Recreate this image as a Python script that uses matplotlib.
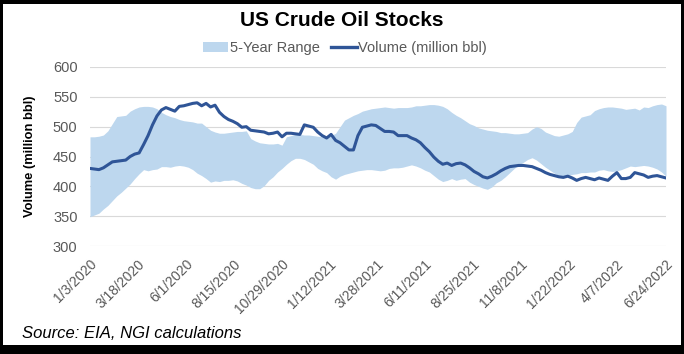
import matplotlib
matplotlib.use("Agg")
import matplotlib.pyplot as plt
from matplotlib.patches import Rectangle, Patch
from matplotlib.lines import Line2D
import pandas as pd

# Weekly dates
weeks = pd.date_range("2020-01-03", "2022-06-24", freq="7D")

volume = [430, 429, 428, 431, 436, 441, 442, 443, 444, 450,
          454, 456, 470, 485, 503, 518, 528, 532, 529, 526,
          534, 535, 537, 539, 540, 535, 539, 533, 536, 524,
          517, 512, 509, 505, 499, 500, 494, 493, 492, 491,
          488, 489, 491, 483, 489, 489, 488, 487, 503, 501,
          499, 491, 485, 481, 487, 477, 473, 467, 461, 461,
          485, 499, 501, 503, 502, 497, 492, 492, 491, 485,
          485, 485, 481, 478, 473, 465, 458, 449, 442, 437,
          439, 435, 438, 439, 436, 431, 425, 421, 416, 414,
          417, 421, 426, 430, 433, 434, 435, 435, 434, 433,
          430, 427, 423, 420, 418, 416, 415, 417, 414, 410,
          413, 415, 413, 411, 414, 412, 410, 417, 423, 413,
          413, 415, 423, 421, 419, 415, 417, 418, 416, 414]

range_high = [483, 483, 484, 486, 493, 505, 517, 518, 519, 526,
              530, 533, 534, 534, 533, 530, 524, 520, 517, 515,
              512, 510, 509, 508, 506, 506, 500, 494, 491, 489,
              489, 490, 491, 492, 492, 493, 480, 476, 473, 472,
              471, 471, 472, 469, 483, 485, 487, 487, 486, 486,
              485, 484, 483, 483, 485, 489, 500, 511, 515, 519,
              522, 526, 528, 530, 531, 532, 533, 532, 531, 532,
              532, 532, 533, 535, 535, 536, 537, 537, 536, 534,
              530, 524, 519, 515, 510, 505, 502, 498, 496, 494,
              493, 492, 490, 490, 489, 488, 488, 489, 490, 496,
              500, 497, 491, 488, 485, 484, 486, 488, 492, 507,
              516, 518, 520, 527, 530, 532, 533, 533, 532, 531,
              529, 530, 531, 528, 533, 532, 535, 537, 538, 535]

range_low = [349, 352, 355, 362, 368, 376, 384, 390, 397, 404,
             413, 421, 428, 426, 428, 429, 433, 433, 432, 434,
             435, 434, 432, 428, 422, 418, 413, 407, 409, 408,
             410, 410, 411, 409, 405, 402, 398, 396, 396, 401,
             410, 416, 424, 430, 437, 443, 447, 447, 445, 441,
             437, 430, 426, 423, 416, 412, 417, 420, 422, 424,
             426, 427, 428, 428, 427, 426, 427, 430, 431, 431,
             432, 434, 436, 434, 431, 427, 424, 418, 412, 408,
             410, 413, 410, 412, 413, 407, 403, 400, 397, 395,
             399, 406, 410, 416, 423, 430, 436, 440, 445, 448,
             444, 438, 432, 427, 422, 418, 417, 418, 420, 421,
             423, 423, 424, 424, 427, 428, 426, 425, 426, 428,
             431, 434, 433, 434, 435, 434, 432, 429, 424, 417]

tick_labels = ["1/3/2020", "3/18/2020", "6/1/2020", "8/15/2020", "10/29/2020",
               "1/12/2021", "3/28/2021", "6/11/2021", "8/25/2021", "11/8/2021",
               "1/22/2022", "4/7/2022", "6/24/2022"]
y_ticks = [300, 350, 400, 450, 500, 550, 600]

BAND = "#BDD7EE"
LINE = "#2F5597"
GRAY = "#595959"

plt.rcParams["font.family"] = ["Liberation Sans", "DejaVu Sans"]

fig = plt.figure(figsize=(6.84, 3.54), dpi=100, facecolor="black")
fig.patches.append(Rectangle((3 / 684, 1 - 345 / 354), 678 / 684, 341 / 354,
                             transform=fig.transFigure, facecolor="white",
                             edgecolor="none", zorder=-10))

ax = fig.add_axes([90 / 684, 1 - 246 / 354, 576 / 684, 179 / 354])
ax.set_facecolor("none")

ax.fill_between(weeks, range_low, range_high, color=BAND, linewidth=0, zorder=1)
ax.plot(weeks, volume, color=LINE, linewidth=2.2, zorder=3)

ax.set_ylim(300, 600)
ax.set_yticks(y_ticks)
ax.set_xlim(weeks[0], weeks[-1])
ax.set_xticks(pd.to_datetime(tick_labels, format="%m/%d/%Y"))
ax.set_xticklabels(tick_labels, rotation=45, ha="right", va="top",
                   rotation_mode="anchor", color=GRAY, fontsize=10)
for lab in ax.get_yticklabels():
    lab.set_color(GRAY)
    lab.set_fontsize(10.5)
ax.tick_params(axis="both", length=0)
ax.tick_params(axis="y", pad=9)
ax.tick_params(axis="x", pad=8)
ax.grid(axis="y", color="#D9D9D9", linewidth=0.8, zorder=0)
ax.set_axisbelow(True)
for s in ax.spines.values():
    s.set_visible(False)

ax.set_ylabel("Volume (million bbl)", fontsize=9.3, fontweight="bold",
              color="black")
ax.yaxis.set_label_coords(-0.093, 0.5)

fig.text(0.5, 1 - 20 / 354, "US Crude Oil Stocks", ha="center", va="center",
         fontsize=15, fontweight="bold")

handles = [Patch(facecolor=BAND, edgecolor="none"),
           Line2D([0], [0], color=LINE, linewidth=2.4)]
leg = fig.legend(handles, ["5-Year Range", "Volume (million bbl)"],
                 loc="center", bbox_to_anchor=(345 / 684, 1 - 48 / 354),
                 ncol=2, frameon=False, handlelength=1.75, handleheight=0.7,
                 handletextpad=0.1, columnspacing=0.8,
                 prop={"size": 10.5})
for t in leg.get_texts():
    t.set_color(GRAY)

fig.text(22 / 684, 1 - 334 / 354, "Source: EIA, NGI calculations", ha="left",
         va="center", fontsize=12, style="italic", color="black")

fig.savefig("out.png", dpi=100, facecolor=fig.get_facecolor())
